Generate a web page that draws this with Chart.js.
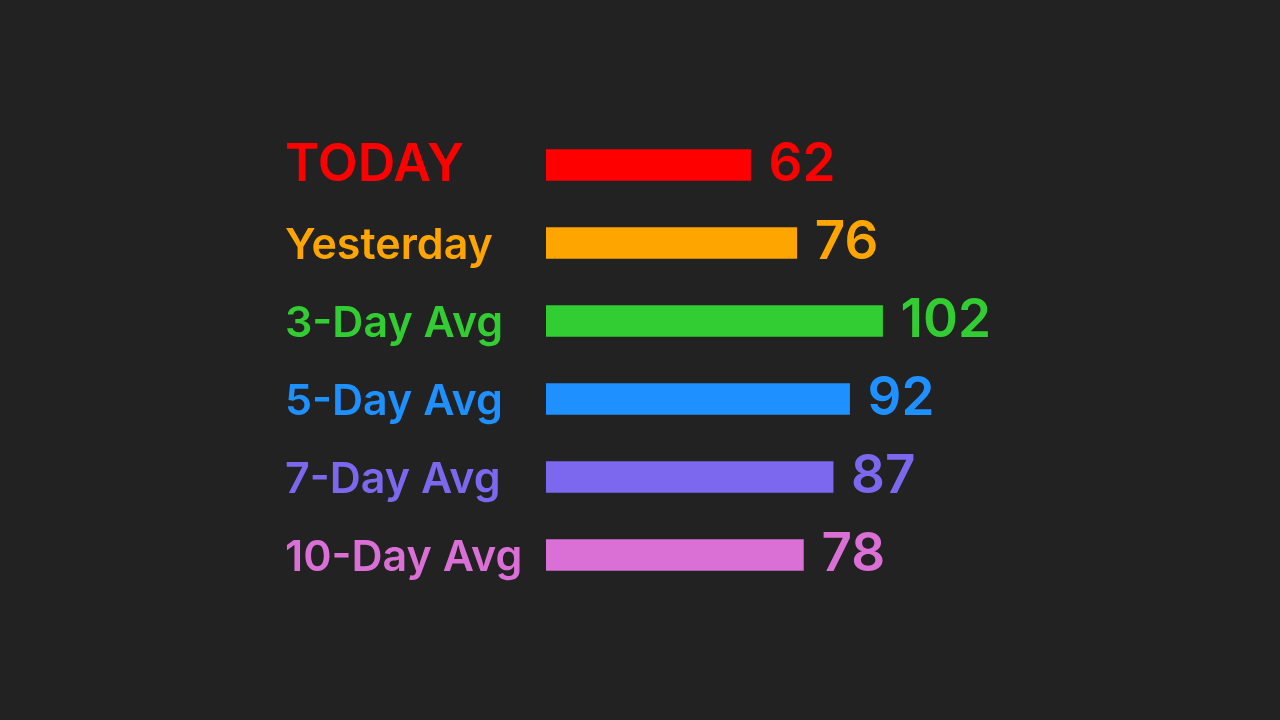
<!DOCTYPE html>
<html>
<head>
<meta charset="utf-8">
<script src="https://cdn.jsdelivr.net/npm/chart.js@4"></script>
<style>
  html, body { margin: 0; padding: 0; background: #222222; }
  #wrap { width: 1280px; height: 720px; }
</style>
</head>
<body>
<div id="wrap"><canvas id="chart" width="1280" height="720"></canvas></div>
<script>
// chart data
const labels = ['TODAY', 'Yesterday', '3-Day Avg', '5-Day Avg', '7-Day Avg', '10-Day Avg']
const values = [62, 76, 102, 92, 87, 78]
const colors = ['#ff0000', '#ffa500', '#32cd32', '#1e90ff', '#7b68ee', '#da70d6']

const FONT = 'Inter, "Noto Sans", sans-serif'

// labels on the left and values at the bar ends
const textPlugin = {
  id: 'barText',
  afterDatasetsDraw(chart) {
    const { ctx } = chart
    const meta = chart.getDatasetMeta(0)
    ctx.save()
    ctx.textBaseline = 'alphabetic'
    meta.data.forEach((bar, i) => {
      const bottom = bar.y + bar.height / 2
      ctx.fillStyle = colors[i]

      ctx.textAlign = 'left'
      ctx.font = (i === 0 ? '600 52px ' : '600 43px ') + FONT
      ctx.fillText(labels[i], 285, bottom)

      ctx.font = '600 53px ' + FONT
      ctx.fillText(String(values[i]), bar.x + 18, bottom)
    })
    ctx.restore()
  }
}

new Chart(document.getElementById('chart'), {
  type: 'bar',
  data: {
    labels: labels,
    datasets: [{
      data: values,
      backgroundColor: colors,
      borderColor: colors,
      borderWidth: 0,
      barThickness: 31,
    }]
  },
  options: {
    indexAxis: 'y',
    responsive: false,
    animation: false,
    layout: { padding: { left: 546, right: 74, top: 126, bottom: 126 } },
    plugins: { legend: { display: false }, tooltip: { enabled: false } },
    scales: {
      x: { display: false, min: 0, max: 200 },
      y: { display: false }
    }
  },
  plugins: [textPlugin]
})
</script>
</body>
</html>
